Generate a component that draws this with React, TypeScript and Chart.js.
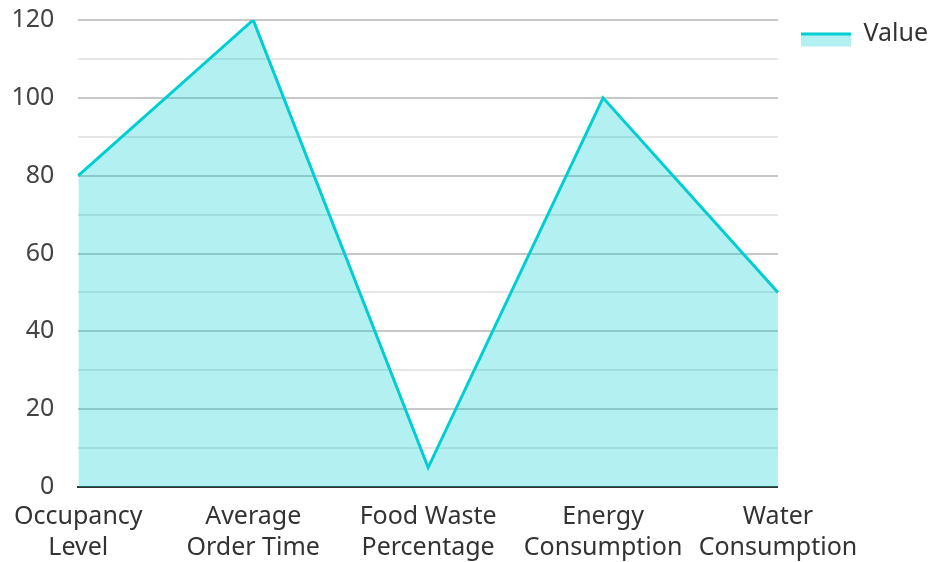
import React, { useEffect, useRef } from "react";
import { Chart, registerables } from "chart.js";

Chart.register(...registerables);

const categories: string[][] = [
  ["Occupancy", "Level"],
  ["Average", "Order Time"],
  ["Food Waste", "Percentage"],
  ["Energy", "Consumption"],
  ["Water", "Consumption"],
];
const seriesLabel = "Value";
const values = [80, 120, 5, 100, 50];
const yMin = 0;
const yMax = 120;
const yStep = 10;
const yLabelEvery = 20;

const LINE = "#00CED1";
const FILL = "rgba(0, 206, 209, 0.3)";
const FONT = "'Noto Sans', 'Open Sans', sans-serif";

// Legend swatch: a thick line over a light filled band, set a little below the text centre
function makeSwatch(): HTMLCanvasElement {
  const c = document.createElement("canvas");
  c.width = 63;
  c.height = 28;
  const g = c.getContext("2d")!;
  g.fillStyle = FILL;
  g.fillRect(13, 13, 50, 14);
  g.fillStyle = LINE;
  g.fillRect(13, 13, 50, 3);
  return c;
}

export default function App() {
  const ref = useRef<HTMLCanvasElement | null>(null);

  useEffect(() => {
    if (!ref.current) return;
    const swatch = makeSwatch();
    const chart = new Chart(ref.current, {
      type: "line",
      data: {
        labels: categories,
        datasets: [
          {
            label: seriesLabel,
            data: values,
            borderColor: LINE,
            backgroundColor: FILL,
            borderWidth: 3,
            fill: "origin",
            tension: 0,
            pointRadius: 0,
            pointHoverRadius: 0,
          },
        ],
      },
      options: {
        animation: false,
        responsive: true,
        maintainAspectRatio: false,
        layout: { padding: { left: 10, top: 11, right: -10, bottom: 0 } },
        plugins: {
          tooltip: { enabled: false },
          legend: {
            position: "right",
            align: "start",
            labels: {
              usePointStyle: true,
              pointStyleWidth: 63,
              boxHeight: 14,
              padding: 10,
              color: "#333",
              font: { family: FONT, size: 25 },
              generateLabels: (ch) =>
                ch.data.datasets.map((ds, i) => ({
                  text: ds.label as string,
                  fillStyle: FILL,
                  strokeStyle: LINE,
                  lineWidth: 0,
                  pointStyle: swatch as any,
                  hidden: false,
                  datasetIndex: i,
                  fontColor: "#333",
                })),
            },
          },
        },
        scales: {
          x: {
            offset: false,
            grid: { display: false, drawTicks: false },
            border: { display: true, color: "#333", width: 2 },
            ticks: {
              color: "#333",
              font: { family: FONT, size: 25, lineHeight: 1.25 },
              padding: 14,
              maxRotation: 0,
              autoSkip: false,
            },
            afterFit: (s: any) => {
              s.height = 75;
            },
          },
          y: {
            min: yMin,
            max: yMax,
            grid: {
              drawTicks: false,
              color: (ctx) =>
                ctx.tick && ctx.tick.value % yLabelEvery === 0 ? "#c8c8c8" : "#e6e6e6",
              lineWidth: 2,
            },
            border: { display: false },
            ticks: {
              stepSize: yStep,
              color: "#444",
              padding: 24,
              font: { family: FONT, size: 25 },
              callback: (v) => (Number(v) % yLabelEvery === 0 ? String(v) : ""),
            },
            afterFit: (s: any) => {
              s.width = 67;
              s.paddingTop = 20;
            },
          },
        },
      },
    });
    return () => chart.destroy();
  }, []);

  return (
    <div style={{ position: "fixed", left: 0, top: 0, width: 928, height: 562, background: "#fff" }}>
      <canvas ref={ref} />
    </div>
  );
}
